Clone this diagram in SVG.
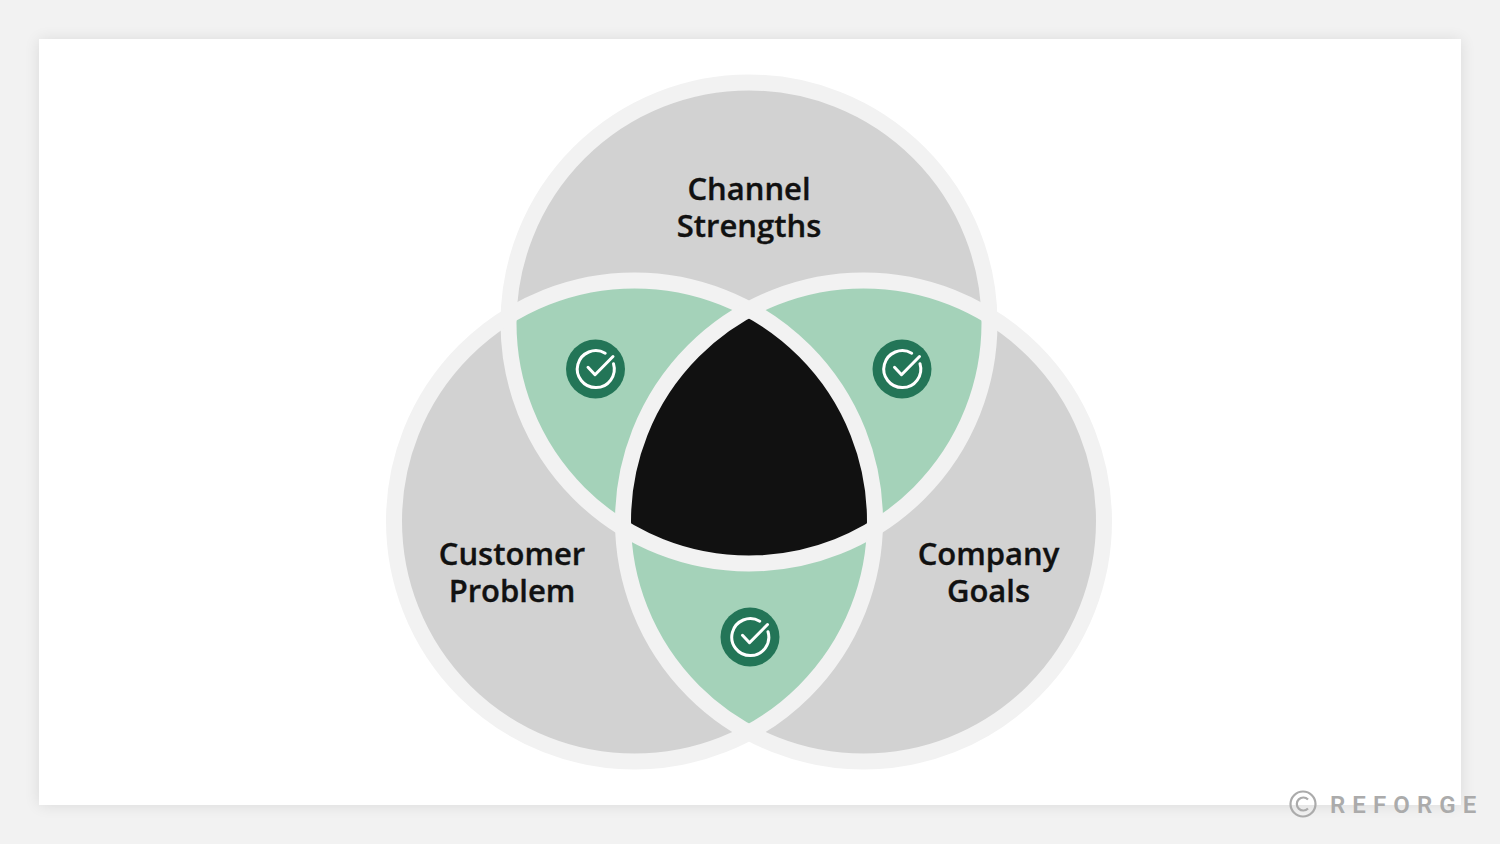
<svg xmlns="http://www.w3.org/2000/svg" width="1500" height="844" viewBox="0 0 1500 844">
<style>
.grey{fill:#d2d2d2}
.green{fill:#a4d2b9}
.ring{fill:none;stroke:#f2f2f2;stroke-width:16}
.label{font-family:"Open Sans","Liberation Sans",Arial,sans-serif;font-weight:600;font-size:31px;fill:#111;stroke:#111;stroke-width:.35;text-anchor:middle}
.badge{fill:#237557}
.tick{fill:none;stroke:#fff;stroke-width:3;stroke-linecap:round;stroke-linejoin:round}
.wm{font-family:"Roboto","Liberation Sans",sans-serif;font-weight:600;font-size:24px;letter-spacing:7.1px;fill:#ababab}
</style>
<defs>
<filter id="soft" x="-5%" y="-5%" width="110%" height="110%"><feGaussianBlur stdDeviation="8"/></filter>
<clipPath id="cT"><circle cx="749" cy="323" r="240.500"/></clipPath>
<clipPath id="cL"><circle cx="634.500" cy="521" r="240.500"/></clipPath>
<g id="check">
<circle class="badge" r="29.500"/>
<path class="tick" d="M9.700 -15.800A18.500 18.500 0 1 0 18 -5.200" />
<path class="tick" d="M-7.500 -1.700L-0.500 5.700L17.500 -12.500"/>
</g>
</defs>
<rect width="1500" height="844" fill="#f2f2f2"/>
<rect x="39" y="40" width="1422" height="765" fill="#000" opacity=".1" filter="url(#soft)"/>
<rect x="39" y="39" width="1422" height="766" fill="#fff"/>
<g id="circle-channel"><circle class="grey" cx="749" cy="323" r="240.500"/></g>
<g id="circle-customer"><circle class="grey" cx="634.500" cy="521" r="240.500"/></g>
<g id="circle-company"><circle class="grey" cx="863.500" cy="521" r="240.500"/></g>
<g id="overlap-channel-customer" clip-path="url(#cT)"><circle class="green" cx="634.500" cy="521" r="240.500"/></g>
<g id="overlap-channel-company" clip-path="url(#cT)"><circle class="green" cx="863.500" cy="521" r="240.500"/></g>
<g id="overlap-customer-company" clip-path="url(#cL)"><circle class="green" cx="863.500" cy="521" r="240.500"/></g>
<g id="overlap-center" clip-path="url(#cT)"><g clip-path="url(#cL)"><circle cx="863.500" cy="521" r="240.500" fill="#111"/></g></g>
<g id="connectors">
<circle class="ring" cx="749" cy="323" r="240.500"/>
<circle class="ring" cx="634.500" cy="521" r="240.500"/>
<circle class="ring" cx="863.500" cy="521" r="240.500"/>
</g>
<g id="label-channel"><text class="label"><tspan x="749" y="200">Channel</tspan><tspan x="749" y="237">Strengths</tspan></text></g>
<g id="label-customer"><text class="label"><tspan x="512" y="565">Customer</tspan><tspan x="512" y="602">Problem</tspan></text></g>
<g id="label-company"><text class="label"><tspan x="988.500" y="565">Company</tspan><tspan x="988.500" y="602">Goals</tspan></text></g>
<g id="badge-left"><use href="#check" x="595.500" y="369"/></g>
<g id="badge-right"><use href="#check" x="902" y="369"/></g>
<g id="badge-bottom"><use href="#check" x="750" y="637"/></g>
<g id="watermark">
<circle cx="1303" cy="804" r="12.500" fill="none" stroke="#ababab" stroke-width="2.200"/>
<path d="M1308 799.500A6.500 6.500 0 1 0 1308 808.500" fill="none" stroke="#ababab" stroke-width="2.200"/>
<text class="wm" x="1330" y="812.500">REFORGE</text>
</g>
</svg>
